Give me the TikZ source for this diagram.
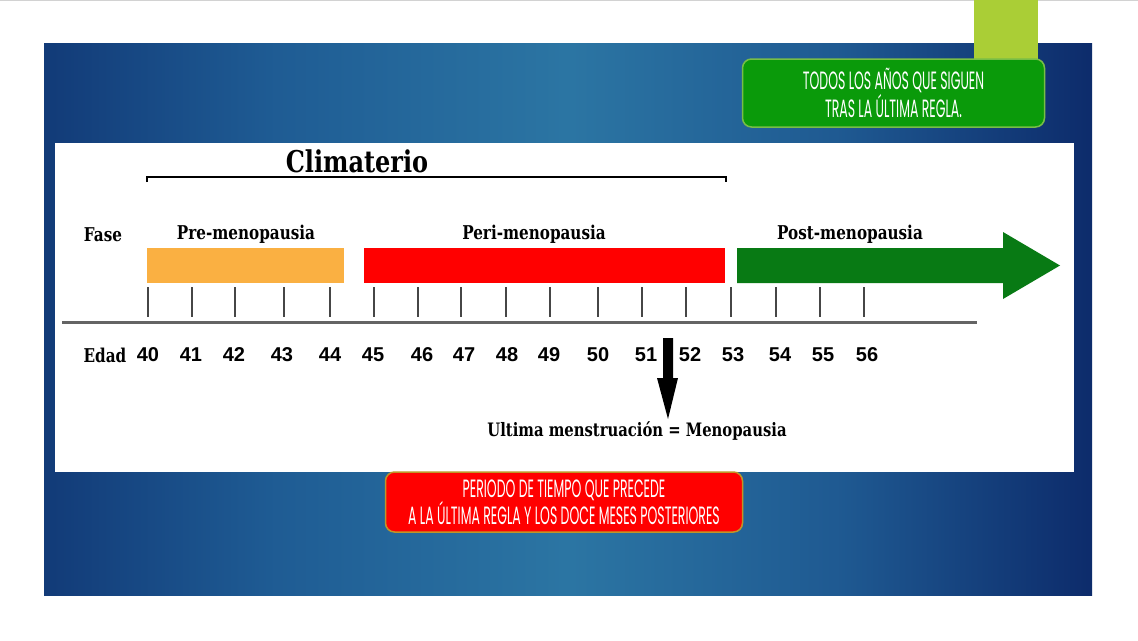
\documentclass[tikz,border=0pt]{standalone}
\usepackage{fontspec}
\setmainfont{Liberation Sans}
\newfontfamily\slab[FakeStretch=0.8]{DejaVu Serif}
\newfontfamily\numf{Liberation Sans}
\newfontfamily\deco[FakeStretch=0.5]{Poppins}
\pgfdeclarehorizontalshading{bgshade}{100bp}{rgb(0bp)=(0.07,0.23,0.47); rgb(25bp)=(0.07,0.23,0.47); rgb(36bp)=(0.12,0.36,0.58); rgb(50bp)=(0.17,0.46,0.64); rgb(63bp)=(0.12,0.35,0.57); rgb(75bp)=(0.05,0.17,0.42); rgb(100bp)=(0.05,0.17,0.42)}
\definecolor{lime}{RGB}{170,206,54}
\definecolor{boxgreen}{RGB}{10,154,10}
\definecolor{boxgreenb}{RGB}{120,190,70}
\definecolor{barorange}{RGB}{250,176,66}
\definecolor{barred}{RGB}{255,0,0}
\definecolor{bargreen}{RGB}{8,122,20}
\definecolor{boxred}{RGB}{255,0,0}
\definecolor{boxredb}{RGB}{190,150,40}
\definecolor{tickgray}{RGB}{70,70,70}
\definecolor{axisgray}{RGB}{100,100,100}
\tikzset{
  lbl/.style={font=\slab\bfseries\fontsize{19}{22}\selectfont, inner sep=0pt, text=black},
  num/.style={font=\numf\bfseries\fontsize{20}{22}\selectfont, inner sep=0pt, text=black},
  bar/.style={anchor=north west, inner sep=0pt, draw=none},
  infobox/.style={rounded corners=9pt, line width=1.5pt, inner sep=0pt, align=center,
    text=white, font=\deco\fontsize{25}{25.5}\selectfont},
  tickline/.style={draw=tickgray, line width=1.4pt},
}
\begin{document}
\begin{tikzpicture}[x=1pt,y=-1pt]
\useasboundingbox (0,0) rectangle (1138,640);
\fill[white] (0,0) rectangle (1138,640);
\draw[gray!35, line width=1pt] (0,0.5) -- (1138,0.5);
% blue background
\shade[shading=bgshade] (44,43) rectangle (1092,595);
% lime tab
\fill[lime] (974,0) rectangle (1038,60);
% green info box
\node[infobox, fill=boxgreen, draw=boxgreenb, minimum width=302pt, minimum height=68pt] (gbox) at (893.5,93)
  {TODOS LOS AÑOS QUE SIGUEN\\TRAS LA ÚLTIMA REGLA.};
% white panel
\node[fill=white, draw=none, anchor=north west, minimum width=1019pt, minimum height=329pt, inner sep=0pt] (panel) at (55,143) {};
% red info box
\node[infobox, fill=boxred, draw=boxredb, minimum width=357pt, minimum height=60pt] (rbox) at (564,502)
  {PERIODO DE TIEMPO QUE PRECEDE\\A LA ÚLTIMA REGLA Y LOS DOCE MESES POSTERIORES};
% Climaterio
\node[lbl, font=\slab\bfseries\fontsize{30}{34}\selectfont] (clim) at (357,161) {Climaterio};
\coordinate (bl) at (147,182);
\coordinate (br) at (726,182);
\draw[line width=1.4pt, black] (bl) -- ++(0,-5) -- ([yshift=5pt]br) -- (br);
% phase labels
\node[lbl] (fase) at (103,235) {Fase};
\node[lbl] (prel) at (246,234) {Pre-menopausia};
\node[lbl] (peril) at (534,234) {Peri-menopausia};
\node[lbl] (postl) at (850,234) {Post-menopausia};
% bars
\node[bar, fill=barorange, minimum width=197pt, minimum height=35pt] (prebar) at (147,248) {};
\node[bar, fill=barred, minimum width=361pt, minimum height=35pt] (peribar) at (364,248) {};
\coordinate (postbar) at (737,248);
\fill[bargreen] (postbar) -- (1003,248) -- (1003,232) -- (1060,265.5) -- (1003,299) -- (1003,283) -- (737,283) -- cycle;
% ticks
\foreach \x in {148,192,235,284,330,374,418,461,506,550,598,642,686,731,776,820,864}
  \draw[tickline] (\x,287) -- (\x,317);
% axis
\coordinate (axl) at (62,322);
\coordinate (axr) at (977,322);
\draw[axisgray, line width=3pt] (axl) -- (axr);
% ages
\node[lbl] (edad) at (105,355) {Edad};
\foreach \x/\t in {148/40,191/41,234/42,282/43,330/44,373/45,422/46,464/47,507/48,549/49,598/50,646/51,690/52,733/53,780/54,823/55,867/56}
  \node[num] (n\t) at (\x,355) {\t};
% black arrow
\coordinate (meno) at (668,419);
\fill[black] (663,338) -- (673,338) -- (673,378) -- (678,378) -- (meno) -- (657,378) -- (663,378) -- cycle;
\node[lbl, font=\slab\bfseries\fontsize{18.5}{22}\selectfont] (ultima) at (637,431) {Ultima menstruación = Menopausia};
\end{tikzpicture}
\end{document}
